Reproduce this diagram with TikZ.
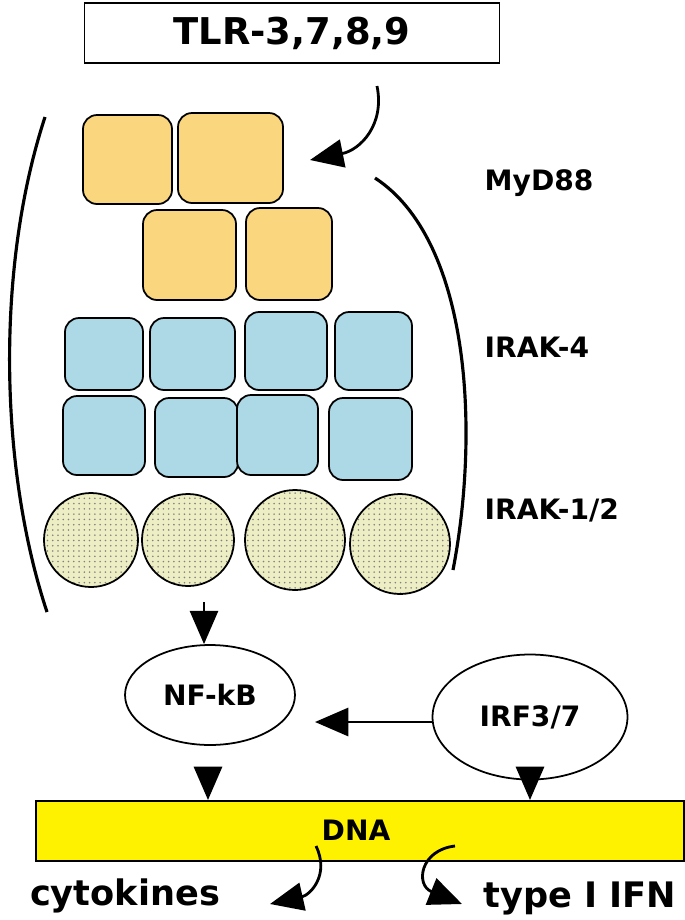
\documentclass[tikz,border=0pt]{standalone}
\usepackage{fontspec}
\setmainfont{DejaVu Sans}
\usetikzlibrary{positioning, arrows.meta, shapes, patterns}
\definecolor{myd}{HTML}{FAD77F}
\definecolor{irak}{HTML}{ADD8E6}
\definecolor{irakone}{HTML}{EEEEC4}
\begin{document}
\begin{tikzpicture}[x=0.02cm, y=-0.02cm, line width=1pt,
	myd/.style={draw, fill=myd, rounded corners=8pt},
	irak/.style={draw, fill=irak, rounded corners=8pt},
	lbl/.style={font=\bfseries\fontsize{16}{18}\selectfont, anchor=west},
	oval/.style={draw, ellipse, font=\bfseries\fontsize{16}{18}\selectfont},
	arr/.style={-{Triangle[length=19pt, width=16pt]}, line width=1.6pt}]
	\useasboundingbox (0,0) rectangle (685,920);
	\node[draw, minimum width=8.3cm, minimum height=1.2cm, font=\bfseries\fontsize{21}{24}\selectfont] (tlr) at (292,33) {TLR-3,7,8,9};
	\coordinate (tlrIn) at (377,86);
	\coordinate (tlrOut) at (310,160);
	\draw[arr] (tlrIn) .. controls (385,125) and (360,150) .. (tlrOut);
	% complex
	\draw[line width=1.8pt] (45,117) .. controls (-5,270) and (0,470) .. (47,612);
	\draw[line width=1.8pt] (375,178) .. controls (470,240) and (480,430) .. (453,570);
	\draw[myd] (83,115) rectangle (172,204);
	\draw[myd] (178,113) rectangle (283,203);
	\draw[myd] (143,210) rectangle (236,300);
	\draw[myd] (246,208) rectangle (332,300);
	\draw[irak] (65,318) rectangle (143,390);
	\draw[irak] (150,318) rectangle (235,390);
	\draw[irak] (245,312) rectangle (327,390);
	\draw[irak] (335,312) rectangle (412,390);
	\draw[irak] (63,396) rectangle (145,475);
	\draw[irak] (155,398) rectangle (238,477);
	\draw[irak] (237,395) rectangle (318,475);
	\draw[irak] (329,398) rectangle (412,480);
	\foreach \cx/\cy/\r in {91/540/47, 188/540/46, 295/540/50, 400/544/50}{
		\fill[irakone] (\cx,\cy) circle [radius=\r*0.02cm];
		\fill[pattern=dots, pattern color=gray] (\cx,\cy) circle [radius=\r*0.02cm];
		\draw (\cx,\cy) circle [radius=\r*0.02cm];
	}
	\node[lbl] (mydLbl) at (478,183) {MyD88};
	\node[lbl] (irakLbl) at (478,347) {IRAK-4};
	\node[lbl] (irakOneLbl) at (478,510) {IRAK-1/2};
	% factors
	\node[oval, minimum width=3.4cm, minimum height=2cm] (nfkb) at (210,695) {NF-kB};
	\node[oval, minimum width=3.9cm, minimum height=2.5cm] (irf) at (530,717) {IRF3/7};
	\coordinate (cxOut) at (204,602);
	\draw[arr] (cxOut) -- (nfkb.north -| cxOut);
	\draw[arr] (irf.west |- 0,722) -- (315,722);
	\node[draw, fill=yellow, minimum width=12.96cm, minimum height=1.2cm, anchor=north west] (dna) at (35,800) {};
	\node[font=\bfseries\fontsize{16}{18}\selectfont] (dnaLbl) at (356,830) {DNA};
	\coordinate (nfkbOut) at (208,772);
	\draw[arr] (nfkbOut) -- (nfkbOut |- dna.north);
	\draw[arr] (irf.south) -- (irf.south |- dna.north);
	\node[font=\bfseries\fontsize{20}{24}\selectfont] (cyto) at (125,896) {cytokines};
	\node[font=\bfseries\fontsize{20}{24}\selectfont] (ifn) at (580,898) {type I IFN};
	\coordinate (cytoOut) at (316,846);
	\coordinate (cytoIn) at (270,904);
	\coordinate (ifnOut) at (455,846);
	\coordinate (ifnIn) at (462,904);
	\draw[arr] (cytoOut) .. controls (330,875) and (310,895) .. (cytoIn);
	\draw[arr] (ifnOut) .. controls (420,850) and (415,885) .. (ifnIn);
\end{tikzpicture}
\end{document}
